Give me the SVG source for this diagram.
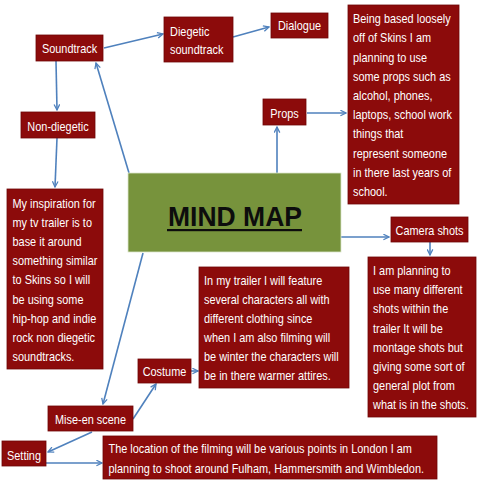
<svg xmlns="http://www.w3.org/2000/svg" width="480" height="480" viewBox="0 0 480 480">
<defs>
<style>
.box{fill:#8C0B0B;stroke:#6E0606;stroke-width:0.8}
.t{font-family:"Liberation Sans",Arial,sans-serif;font-size:13px;fill:#FFFFFF}
.c{text-anchor:middle}
.ln{fill:none;stroke:#4F81BD;stroke-width:1.6;marker-end:url(#ah)}
</style>
<marker id="ah" viewBox="0 0 10 10" refX="9" refY="5" markerWidth="7" markerHeight="7" markerUnits="userSpaceOnUse" orient="auto">
<path d="M1,1 L9,5 L1,9" fill="none" stroke="#4F81BD" stroke-width="1.8"/>
</marker>
</defs>
<rect width="480" height="480" fill="#FFFFFF"/>

<g id="connectors">
<line class="ln" x1="104" y1="48" x2="163" y2="34"/>
<line class="ln" x1="233" y1="37" x2="269" y2="27"/>
<line class="ln" x1="56" y1="61" x2="57" y2="110"/>
<line class="ln" x1="57" y1="138" x2="55" y2="187"/>
<line class="ln" x1="129" y1="173" x2="96" y2="63"/>
<line class="ln" x1="277" y1="173" x2="277" y2="127"/>
<line class="ln" x1="307" y1="113" x2="346" y2="113"/>
<line class="ln" x1="341" y1="237" x2="389" y2="237"/>
<line class="ln" x1="430" y1="242" x2="430" y2="255"/>
<line class="ln" x1="143" y1="253" x2="103" y2="404"/>
<line class="ln" x1="133" y1="419" x2="156" y2="384"/>
<line class="ln" x1="191" y1="371" x2="198" y2="371"/>
<line class="ln" x1="92" y1="432" x2="48" y2="452"/>
<line class="ln" x1="46" y1="463" x2="102" y2="463"/>
</g>

<g id="mindmap">
<rect x="128" y="173" width="213" height="79" fill="#77933C" stroke="#DDE6CC" stroke-width="0.8"/>
<text x="235" y="226" text-anchor="middle" font-family="Liberation Sans,Arial,sans-serif" font-weight="bold" font-size="28" fill="#0D0D0D" textLength="134" lengthAdjust="spacingAndGlyphs">MIND MAP</text>
<rect x="167" y="229" width="135" height="2.2" fill="#0D0D0D"/>
</g>

<g id="soundtrack">
<rect class="box" x="36" y="35" width="67" height="26"/>
<g transform="translate(69.5,53) scale(0.84,1)"><text class="t c" x="0" y="0">Soundtrack</text></g>
</g>

<g id="diegetic">
<rect class="box" x="164" y="17" width="69" height="45"/>
<g transform="translate(170,36) scale(0.84,1)"><text class="t" x="0" y="0">Diegetic</text><text class="t" x="0" y="18.5">soundtrack</text></g>
</g>

<g id="dialogue">
<rect class="box" x="271" y="13" width="57" height="25"/>
<g transform="translate(299.5,30) scale(0.84,1)"><text class="t c" x="0" y="0">Dialogue</text></g>
</g>

<g id="nondiegetic">
<rect class="box" x="21" y="112" width="74" height="26"/>
<g transform="translate(58,130.5) scale(0.84,1)"><text class="t c" x="0" y="0">Non-diegetic</text></g>
</g>

<g id="inspiration">
<rect class="box" x="7" y="189" width="96" height="180"/>
<g transform="translate(12.5,207.7) scale(0.84,1)">
<text class="t" x="0" y="0">My inspiration for</text>
<text class="t" x="0" y="19.2">my tv trailer is to</text>
<text class="t" x="0" y="38.4">base it around</text>
<text class="t" x="0" y="57.6">something similar</text>
<text class="t" x="0" y="76.8">to Skins so I will</text>
<text class="t" x="0" y="96">be using some</text>
<text class="t" x="0" y="115.2">hip-hop and indie</text>
<text class="t" x="0" y="134.4">rock non diegetic</text>
<text class="t" x="0" y="153.6">soundtracks.</text>
</g>
</g>

<g id="props">
<rect class="box" x="263" y="99" width="43" height="26"/>
<g transform="translate(284.5,117.5) scale(0.84,1)"><text class="t c" x="0" y="0">Props</text></g>
</g>

<g id="propstext">
<rect class="box" x="348" y="5" width="111" height="199"/>
<g transform="translate(353,23.3) scale(0.84,1)">
<text class="t" x="0" y="0">Being based loosely</text>
<text class="t" x="0" y="19.2">off of Skins I am</text>
<text class="t" x="0" y="38.4">planning to use</text>
<text class="t" x="0" y="57.6">some props such as</text>
<text class="t" x="0" y="76.8">alcohol, phones,</text>
<text class="t" x="0" y="96">laptops, school work</text>
<text class="t" x="0" y="115.2">things that</text>
<text class="t" x="0" y="134.4">represent someone</text>
<text class="t" x="0" y="153.6">in there last years of</text>
<text class="t" x="0" y="172.8">school.</text>
</g>
</g>

<g id="camerashots">
<rect class="box" x="391" y="217" width="77" height="25"/>
<g transform="translate(429.5,235) scale(0.84,1)"><text class="t c" x="0" y="0">Camera shots</text></g>
</g>

<g id="cameratext">
<rect class="box" x="368" y="257" width="108" height="160"/>
<g transform="translate(373,275) scale(0.84,1)">
<text class="t" x="0" y="0">I am planning to</text>
<text class="t" x="0" y="19.2">use many different</text>
<text class="t" x="0" y="38.4">shots within the</text>
<text class="t" x="0" y="57.6">trailer It will be</text>
<text class="t" x="0" y="76.8">montage shots but</text>
<text class="t" x="0" y="96">giving some sort of</text>
<text class="t" x="0" y="115.2">general plot from</text>
<text class="t" x="0" y="134.4">what is in the shots.</text>
</g>
</g>

<g id="costumetext">
<rect class="box" x="199" y="267" width="150" height="121"/>
<g transform="translate(204,285) scale(0.84,1)">
<text class="t" x="0" y="0">In my trailer I will feature</text>
<text class="t" x="0" y="19">several characters all with</text>
<text class="t" x="0" y="38">different clothing since</text>
<text class="t" x="0" y="57">when I am also filming will</text>
<text class="t" x="0" y="76">be winter the characters will</text>
<text class="t" x="0" y="95">be in there warmer attires.</text>
</g>
</g>

<g id="costume">
<rect class="box" x="138" y="359" width="53" height="24"/>
<g transform="translate(164.5,375.5) scale(0.84,1)"><text class="t c" x="0" y="0">Costume</text></g>
</g>

<g id="miseenscene">
<rect class="box" x="48" y="406" width="85" height="25"/>
<g transform="translate(90.5,423.5) scale(0.84,1)"><text class="t c" x="0" y="0">Mise-en scene</text></g>
</g>

<g id="setting">
<rect class="box" x="2" y="441" width="44" height="25"/>
<g transform="translate(24,459.5) scale(0.84,1)"><text class="t c" x="0" y="0">Setting</text></g>
</g>

<g id="locationtext">
<rect class="box" x="103" y="436" width="334" height="43"/>
<g transform="translate(108.5,453.3) scale(0.84,1)">
<text class="t" x="0" y="0">The location of the filming will be various points in London I am</text>
<text class="t" x="0" y="20">planning to shoot around Fulham, Hammersmith and Wimbledon.</text>
</g>
</g>
</svg>
